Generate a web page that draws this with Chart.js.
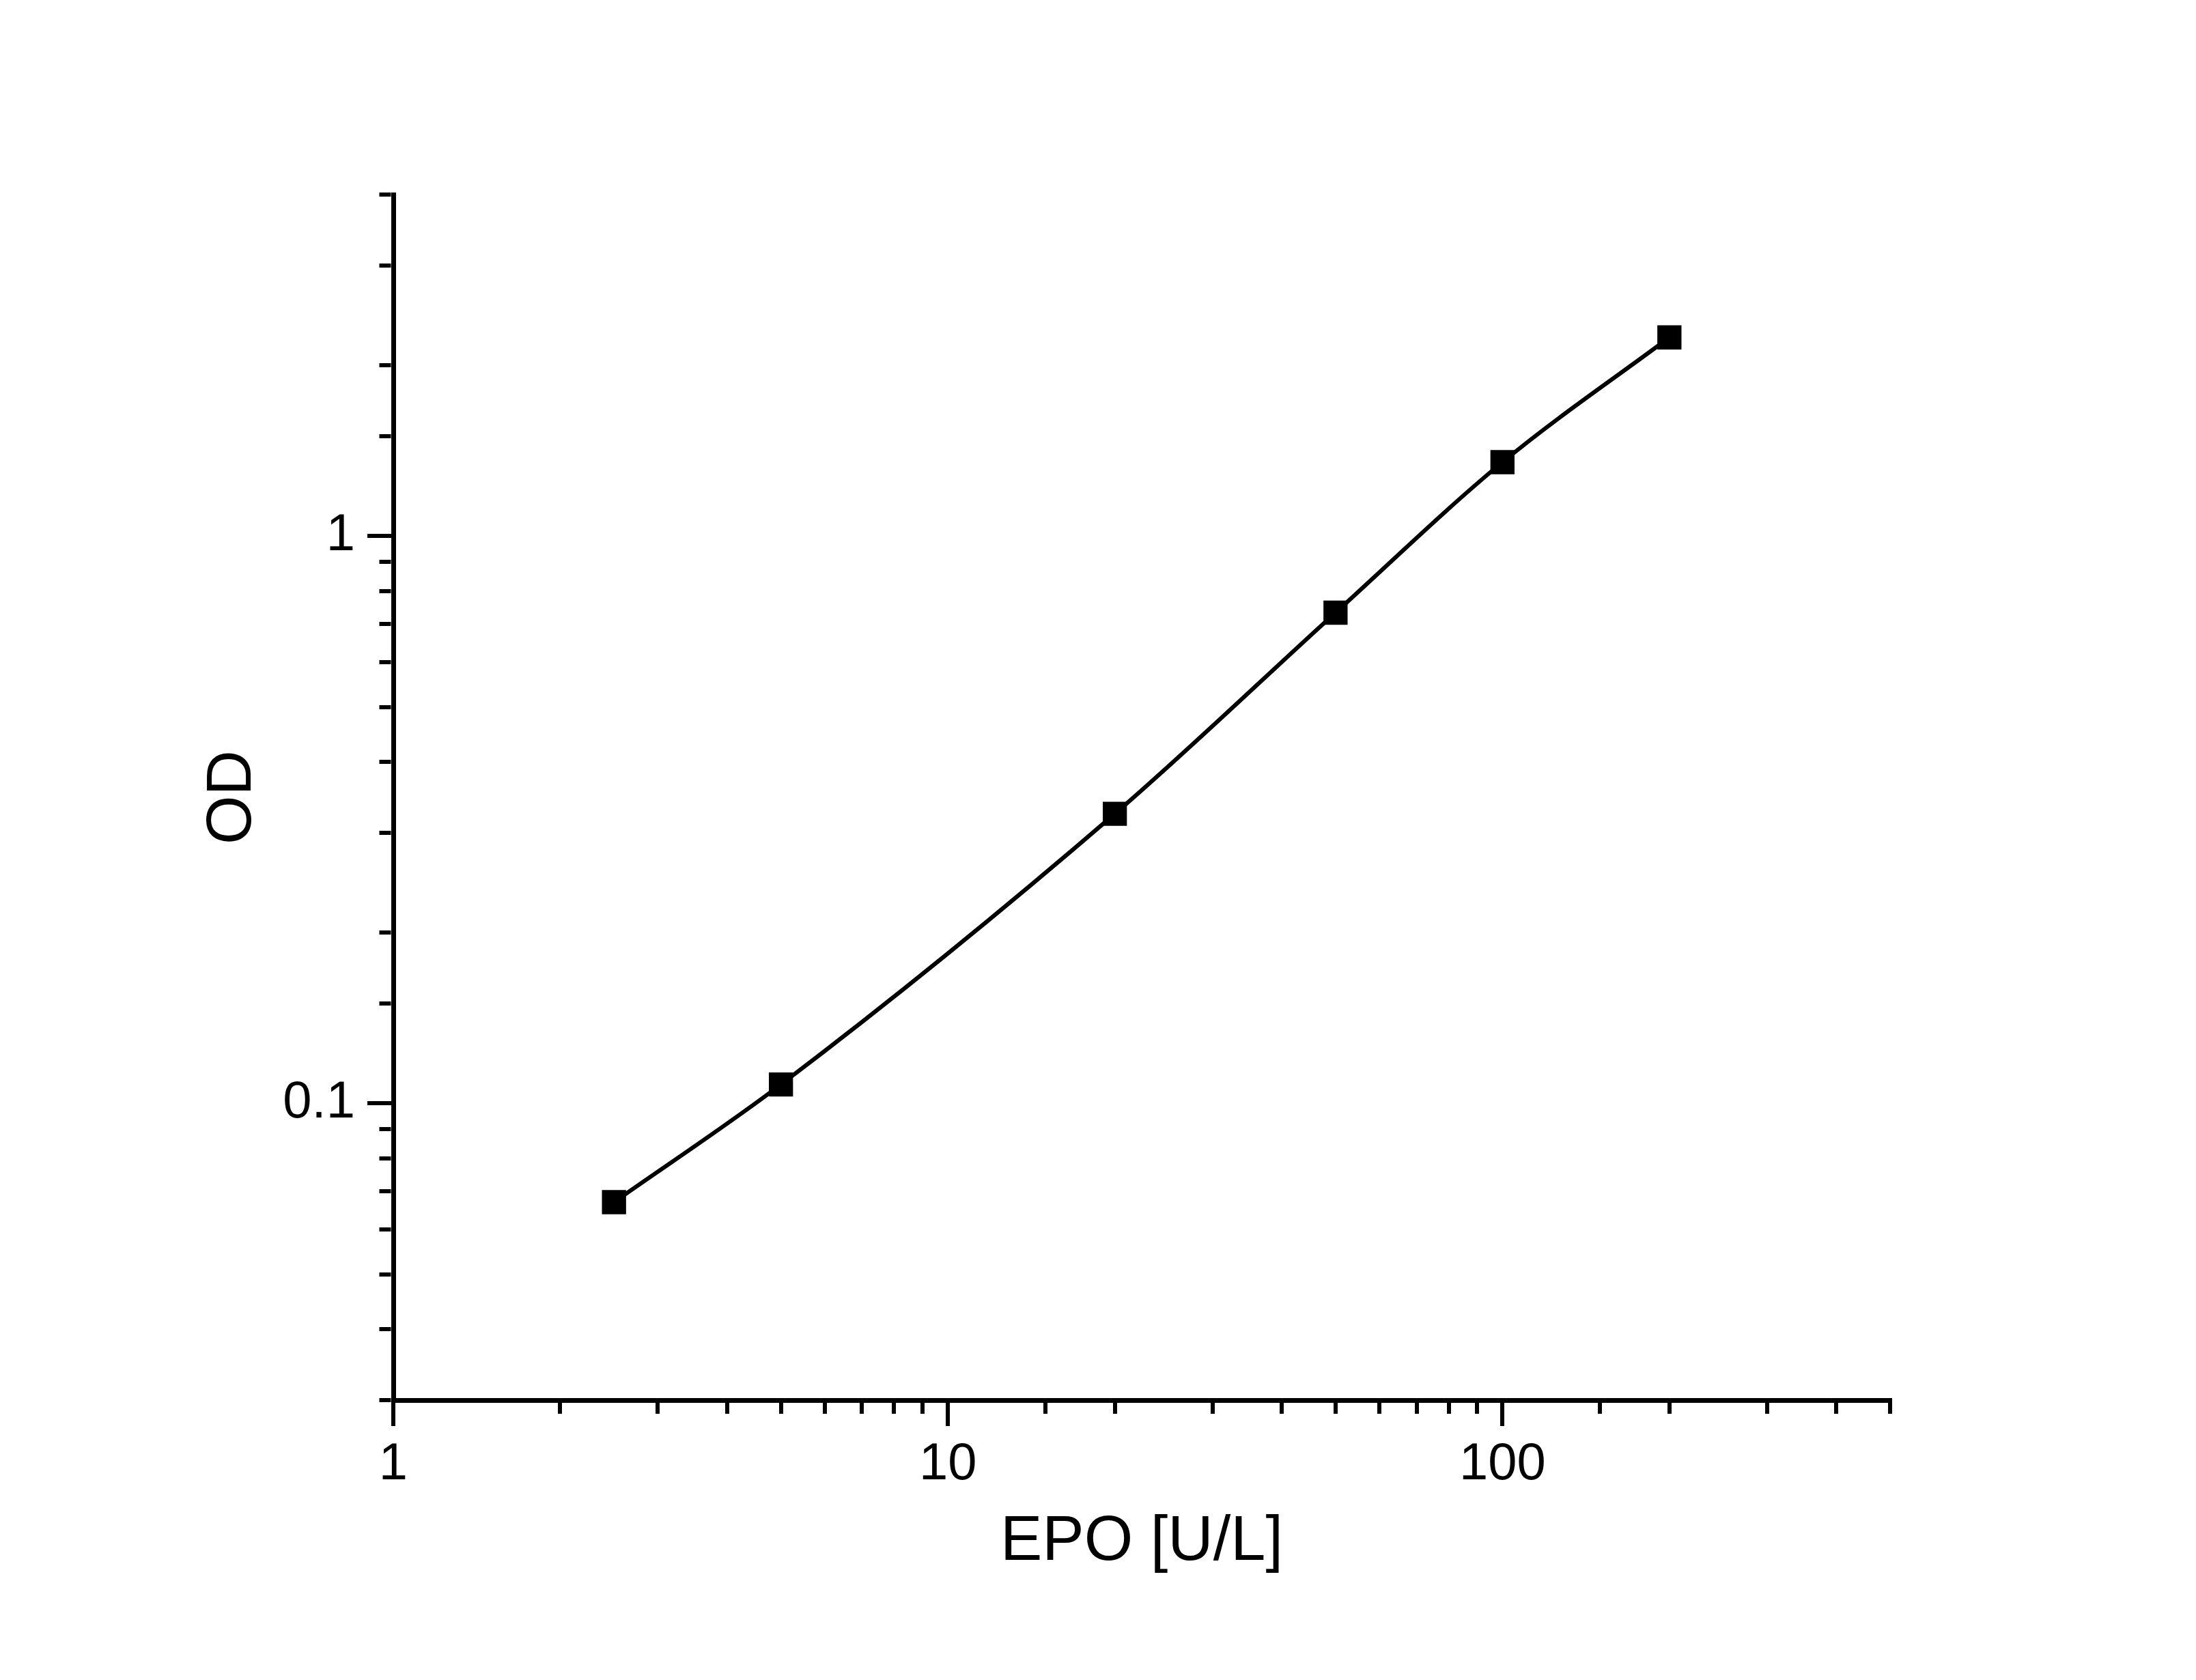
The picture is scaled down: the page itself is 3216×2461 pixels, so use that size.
<!DOCTYPE html>
<html>
<head>
<meta charset="utf-8">
<script src="https://cdn.jsdelivr.net/npm/chart.js@4/dist/chart.umd.min.js"></script>
<style>
  html, body { margin: 0; padding: 0; background: #fff; }
  #wrap { width: 3216px; height: 2461px; }
</style>
</head>
<body>
<div id="wrap"><canvas id="chart" width="3216" height="2461"></canvas></div>
<script>
// standard curve values
const epoValues = [2.5, 5, 20, 50, 100, 200];
const odValues = [0.067, 0.108, 0.324, 0.733, 1.35, 2.24];

const xTitle = "EPO [U/L]";
const yTitle = "OD";

function isPow10(v) {
    let l = Math.log10(v);
    return Math.abs(l - Math.round(l)) < 1e-9;
}

const points = epoValues.map((x, i) => ({ x: x, y: odValues[i] }));

const font = "'Liberation Sans', Arial, sans-serif";

new Chart(document.getElementById("chart"), {
    type: "line",
    data: {
        datasets: [{
            data: points,
            borderColor: "#000",
            backgroundColor: "#000",
            borderWidth: 6,
            cubicInterpolationMode: "monotone",
            pointStyle: "rect",
            pointRadius: 25,
            pointBorderWidth: 0,
            pointBackgroundColor: "#000",
            fill: false
        }]
    },
    options: {
        responsive: false,
        devicePixelRatio: 1,
        animation: false,
        layout: { padding: { left: 0, top: 285, right: 448, bottom: 0 } },
        plugins: { legend: { display: false }, tooltip: { enabled: false } },
        scales: {
            x: {
                type: "logarithmic",
                position: "bottom",
                min: 1,
                max: 500,
                afterFit: s => { s.height = 410; },
                border: { display: true, color: "#000", width: 7 },
                grid: {
                    drawOnChartArea: false,
                    drawTicks: true,
                    tickLength: 38,
                    tickWidth: 6,
                    lineWidth: 6,
                    tickColor: "#000",
                    tickBorderDash: ctx => isPow10(ctx.tick.value) ? [] : [16, 200]
                },
                ticks: {
                    autoSkip: false,
                    maxRotation: 0,
                    padding: 11,
                    color: "#000",
                    font: { family: font, size: 76 },
                    callback: v => isPow10(v) ? String(v) : ""
                },
                title: {
                    display: true,
                    text: xTitle,
                    color: "#000",
                    font: { family: font, size: 92 },
                    padding: { top: 0, bottom: 146 }
                }
            },
            y: {
                type: "logarithmic",
                position: "left",
                min: 0.03,
                max: 4,
                afterFit: s => { s.width = 576; },
                border: { display: true, color: "#000", width: 7 },
                grid: {
                    drawOnChartArea: false,
                    drawTicks: true,
                    tickLength: 38,
                    tickWidth: 6,
                    lineWidth: 6,
                    tickColor: "#000",
                    tickBorderDash: ctx => isPow10(ctx.tick.value) ? [] : [0, 17.5, 17, 200]
                },
                ticks: {
                    autoSkip: false,
                    padding: 18,
                    color: "#000",
                    font: { family: font, size: 76 },
                    callback: v => isPow10(v) ? String(v) : ""
                },
                title: {
                    display: true,
                    text: yTitle,
                    color: "#000",
                    font: { family: font, size: 92 },
                    padding: { top: 286, bottom: 0 }
                }
            }
        }
    }
});
</script>
</body>
</html>
